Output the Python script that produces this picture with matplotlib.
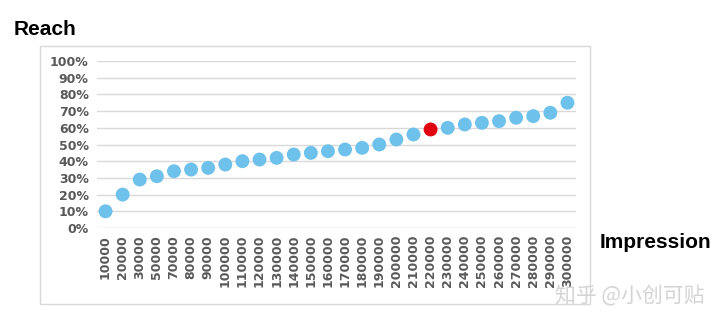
import matplotlib.pyplot as plt
from matplotlib.patches import Rectangle

# data
impressions = ['10000', '20000', '30000', '50000', '70000', '80000', '90000',
               '100000', '110000', '120000', '130000', '140000', '150000',
               '160000', '170000', '180000', '190000', '200000', '210000',
               '220000', '230000', '240000', '250000', '260000', '270000',
               '280000', '290000', '300000']
reach = [10, 20, 29, 31, 34, 35, 36, 38, 40, 41, 42, 44, 45, 46, 47, 48, 50,
         53, 56, 59, 60, 62, 63, 64, 66, 67, 69, 75]
highlight = '220000'
y_ticks = [0, 10, 20, 30, 40, 50, 60, 70, 80, 90, 100]

blue = '#6EC1EA'
red = '#E0000F'
tick_color = '#595959'

fig = plt.figure(figsize=(7.23, 3.24), dpi=100)
W, H = 723, 324

# light outer frame of the chart box
fig.patches.append(Rectangle((40 / W, 1 - 304 / H), 550 / W, 258 / H,
                             transform=fig.transFigure, fill=False,
                             edgecolor='#d9d9d9', linewidth=1))

ax = fig.add_axes([97 / W, 1 - 228 / H, 479 / W, 167 / H])

x = list(range(len(impressions)))
colors = [red if c == highlight else blue for c in impressions]
ax.scatter(x, reach, s=100, c=colors, zorder=3, clip_on=False, linewidths=0)

ax.set_xlim(-0.5, len(impressions) - 0.5)
ax.set_ylim(0, 100)
ax.set_yticks(y_ticks)
ax.set_yticklabels([f'{v}%' for v in y_ticks])
ax.set_xticks(x)
ax.set_xticklabels(impressions, rotation=90)

ax.grid(axis='y', color='#d9d9d9', linewidth=1)
ax.set_axisbelow(True)
for s in ax.spines.values():
    s.set_visible(False)
ax.tick_params(length=0)
ax.tick_params(axis='y', pad=6)
ax.tick_params(axis='x', pad=5)
for lab in ax.get_xticklabels() + ax.get_yticklabels():
    lab.set_fontsize(9)
    lab.set_fontweight('bold')
    lab.set_color(tick_color)
    lab.set_family('DejaVu Sans')

fig.text(14 / W, 1 - 35 / H, 'Reach', fontsize=15, fontweight='bold',
         family='Liberation Sans', color='black')
fig.text(600 / W, 1 - 248 / H, 'Impression', fontsize=15, fontweight='bold',
         family='Liberation Sans', color='black')
fig.text(555 / W, 1 - 302 / H, '知乎 @小创可贴', fontsize=15,
         family=['Noto Sans CJK SC', 'DejaVu Sans'], color='#d4d4d4')

fig.savefig('out.png', dpi=100)
